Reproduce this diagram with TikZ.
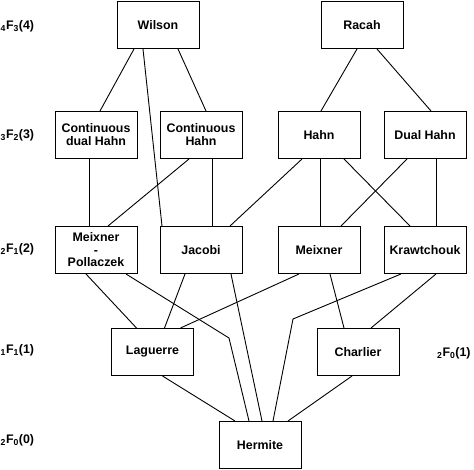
\documentclass[tikz,border=0pt]{standalone}
\usepackage{fontspec}
\setmainfont{Liberation Sans}
\begin{document}
\begin{tikzpicture}[x=1pt,y=-1pt]
    \tikzstyle{every node}+=[inner sep=0pt, font=\fontsize{12.4}{13}\selectfont\bfseries]
    \tikzstyle{family}=[draw=black, line width=1pt, minimum width=82pt, minimum height=47pt, align=center]
    \tikzstyle{link}=[black, line width=0.9pt]
    \useasboundingbox (0,0) rectangle (474,470);
    \node [anchor=west] (l4f3) at (0.5,26) {\textsubscript{4}F\textsubscript{3}(4)};
    \node [anchor=west] (l3f2) at (0.5,135) {\textsubscript{3}F\textsubscript{2}(3)};
    \node [anchor=west] (l2f1) at (0.5,249) {\textsubscript{2}F\textsubscript{1}(2)};
    \node [anchor=west] (l1f1) at (0.5,350) {\textsubscript{1}F\textsubscript{1}(1)};
    \node [anchor=west] (l2f0a) at (0.5,440) {\textsubscript{2}F\textsubscript{0}(0)};
    \node [anchor=west] (l2f0b) at (437,353) {\textsubscript{2}F\textsubscript{0}(1)};
    \node [family] (wilson) at (158,25) {Wilson};
    \node [family] (racah) at (362,25) {Racah};
    \node [family] (cdhahn) at (96,135) {Continuous\\dual Hahn};
    \node [family] (chahn) at (201,135) {Continuous\\Hahn};
    \node [family] (hahn) at (319,135) {Hahn};
    \node [family] (dhahn) at (425,135) {Dual Hahn};
    \node [family, font=\fontsize{12.4}{12.5}\selectfont\bfseries] (mpoll) at (96,250) {Meixner\\-\\Pollaczek};
    \node [family] (jacobi) at (201,250) {Jacobi};
    \node [family] (meixner) at (319,250) {Meixner};
    \node [family] (kraw) at (425,250) {Krawtchouk};
    \node [family] (laguerre) at (152.5,352) {Laguerre};
    \node [family] (charlier) at (358,352) {Charlier};
    \node [family] (hermite) at (260,445) {Hermite};
    \coordinate (mpbend) at (229,338);
    \coordinate (kwbend) at (293,319);
    \draw [link] ([xshift=-24pt]wilson.south) -- ([xshift=4pt]cdhahn.north);
    \draw [link] ([xshift=20pt]wilson.south) -- ([xshift=5pt]chahn.north);
    \draw [link] ([xshift=-15pt]wilson.south) -- ([xshift=-39pt]jacobi.north);
    \draw [link] ([xshift=-5pt]racah.south) -- ([xshift=2pt]hahn.north);
    \draw [link] ([xshift=15pt]racah.south) -- ([xshift=6pt]dhahn.north);
    \draw [link] ([xshift=-7pt]cdhahn.south) -- ([xshift=-7pt]mpoll.north);
    \draw [link] ([xshift=-12pt]chahn.south) -- ([xshift=12pt]mpoll.north);
    \draw [link] ([xshift=11pt]chahn.south) -- ([xshift=11pt]jacobi.north);
    \draw [link] ([xshift=-17pt]hahn.south) -- ([xshift=29pt]jacobi.north);
    \draw [link] ([xshift=1pt]hahn.south) -- ([xshift=1pt]meixner.north);
    \draw [link] ([xshift=25pt]hahn.south) -- ([xshift=-15pt]kraw.north);
    \draw [link] ([xshift=-18pt]dhahn.south) -- ([xshift=22pt]meixner.north);
    \draw [link] ([xshift=11pt]dhahn.south) -- ([xshift=11pt]kraw.north);
    \draw [link] ([xshift=-10pt]mpoll.south) -- ([xshift=-16pt]laguerre.north);
    \draw [link] ([xshift=30pt]mpoll.south) -- (mpbend) -- ([xshift=-11pt]hermite.north);
    \draw [link] ([xshift=-16pt]jacobi.south) -- ([xshift=12pt]laguerre.north);
    \draw [link] ([xshift=30pt]jacobi.south) -- ([xshift=2pt]hermite.north);
    \draw [link] ([xshift=-20pt]meixner.south) -- ([xshift=28pt]laguerre.north);
    \draw [link] ([xshift=11pt]meixner.south) -- ([xshift=-14pt]charlier.north);
    \draw [link] ([xshift=-24pt]kraw.south) -- (kwbend) -- ([xshift=13pt]hermite.north);
    \draw [link] ([xshift=11pt]kraw.south) -- ([xshift=13pt]charlier.north);
    \draw [link] ([xshift=10pt]laguerre.south) -- ([xshift=-25pt]hermite.north);
    \draw [link] ([xshift=-6pt]charlier.south) -- ([xshift=28pt]hermite.north);
\end{tikzpicture}
\end{document}
